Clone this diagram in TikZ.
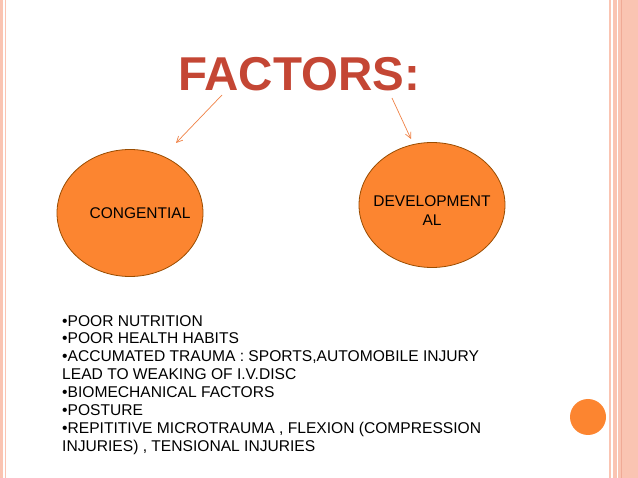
\documentclass[tikz,border=0pt]{standalone}
\usepackage{fontspec}
\setmainfont{Liberation Sans}
\usetikzlibrary{shapes.geometric,arrows.meta}
\definecolor{pinkb}{RGB}{250,196,178}
\definecolor{pinkd}{RGB}{240,170,150}
\definecolor{orfill}{RGB}{252,133,48}
\definecolor{arrc}{RGB}{240,130,70}
\definecolor{titlec}{RGB}{196,70,52}
\begin{document}
\begin{tikzpicture}[x=1pt,y=-1pt,
  blob/.style={ellipse,draw=orange!60!black,fill=orfill,line width=0.8pt,inner sep=0pt},
  arr/.style={-{Straight Barb[length=6pt,width=6pt]},draw=arrc,line width=0.7pt},
  body/.style={font=\fontsize{15.6}{17.9}\selectfont,align=left,anchor=north west,inner sep=0pt}]
\useasboundingbox (0,0) rectangle (638,478);
\fill[white] (0,0) rectangle (638,478);
\fill[pinkb] (0,0) rectangle (3,478);
\fill[pinkb] (5,0) rectangle (6,478);
\fill[pinkb] (609,0) rectangle (611,478);
\fill[pinkb] (613,0) rectangle (638,478);
\draw[white,line width=0.8pt] (617,0) -- (617,478);
\draw[pinkd,line width=0.8pt] (621,0) -- (621,478);
\node[font=\bfseries\fontsize{47.5}{47.5}\selectfont,text=titlec] (title) at (299,74) {FACTORS:};
\node[blob,minimum width=146pt,minimum height=127pt] (c) at (130,213) {};
\node at (140,213) {\fontsize{15.5}{17}\selectfont CONGENTIAL};
\node[blob,minimum width=146pt,minimum height=125pt] (d) at (432,205) {};
\node[align=center,font=\fontsize{15.5}{19}\selectfont] at (432,211) {DEVELOPMENT\\AL};
\coordinate (a1) at (222,95); \coordinate (a2) at (392,98);
\draw[arr] (a1) -- (176,143);
\draw[arr] (a2) -- (411,139);
\node[body] (list) at (62,315) {•POOR NUTRITION\\•POOR HEALTH HABITS\\•ACCUMATED TRAUMA : SPORTS,AUTOMOBILE INJURY\\LEAD TO WEAKING OF I.V.DISC\\•BIOMECHANICAL FACTORS\\•POSTURE\\•REPITITIVE MICROTRAUMA , FLEXION (COMPRESSION\\INJURIES) , TENSIONAL INJURIES};
\fill[orfill] (588,417) circle (18);
\end{tikzpicture}
\end{document}
